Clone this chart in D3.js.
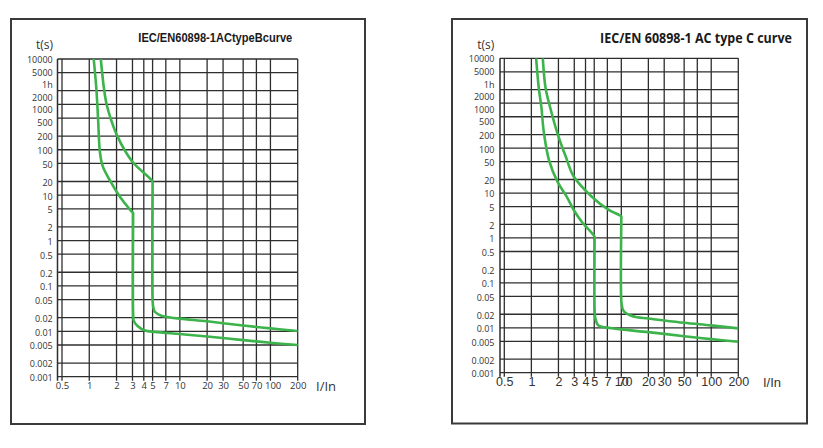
<!DOCTYPE html>
<html>
<head>
<meta charset="utf-8">
<script src="https://cdn.jsdelivr.net/npm/d3@7"></script>
<style>
  body { margin: 0; background: #fff; }
  svg { display: block; }
</style>
</head>
<body>
<svg id="chart" width="823" height="448"></svg>
<script>
// ---------------- data ----------------
const gridCurrent = [0.5, 1, 2, 3, 4, 5, 7, 10, 20, 30, 50, 70, 100, 200];
const gridTime = [10000, 5000, 2000, 1000, 500, 200, 100, 50, 20, 10, 5, 2, 1, 0.5, 0.2, 0.1, 0.05, 0.02, 0.01, 0.005, 0.002, 0.001];

const timeLabelValues = [10000, 5000, 3600, 2000, 1000, 500, 200, 100, 50, 20, 10, 5, 2, 1, 0.5, 0.2, 0.1, 0.05, 0.02, 0.01, 0.005, 0.002, 0.001];
const timeLabelTexts = ["10000", "5000", "1h", "2000", "1000", "500", "200", "100", "50", "20", "10", "5", "2", "1", "0.5", "0.2", "0.1", "0.05", "0.02", "0.01", "0.005", "0.002", "0.001"];

const currentLabelValuesB = [0.5, 1, 2, 3, 4, 5, 7, 10, 20, 30, 50, 70, 100, 200];
const currentLabelTextsB = ["0.5", "1", "2", "3", "4", "5", "7", "10", "20", "30", "50", "70", "100", "200"];

const currentLabelValuesC = [0.5, 1, 2, 3, 4, 5, 7, 10, 11, 20, 30, 50, 100, 200];
const currentLabelTextsC = ["0.5", "1", "2", "3", "4", "5", "7", "10", "70", "20", "30", "50", "100", "200"];

// Type B curve (left chart)
const bLowerI = [1.12, 1.20, 1.25, 1.31, 1.40, 1.72, 2.17, 2.86, 3.05, 3.05, 3.05, 3.10, 3.41, 4.13, 5.29, 10, 20, 50, 100, 200];
const bLowerT = [10000, 2075, 494, 91, 44.7, 19.8, 9.3, 4.6, 4.0, 3.6, 0.025, 0.017, 0.0131, 0.0104, 0.0097, 0.0087, 0.0077, 0.0064, 0.0056, 0.005];
const bUpperI = [1.34, 1.46, 1.56, 1.72, 2.03, 2.49, 3.09, 5.0, 5.0, 5.0, 5.1, 5.29, 6.36, 7, 10, 20, 50, 100, 200];
const bUpperT = [10000, 2075, 970, 494, 205, 94, 50.5, 20, 18, 0.05, 0.033, 0.027, 0.0217, 0.021, 0.019, 0.0166, 0.0134, 0.0116, 0.0102];

// Type C curve (right chart)
const cLowerI = [1.13, 1.21, 1.29, 1.38, 1.57, 1.95, 2.47, 2.96, 3.63, 5.05, 5.05, 5.05, 5.15, 5.5, 6.2, 7, 10, 20, 50, 100, 200];
const cLowerT = [10000, 2147, 836, 214, 54.3, 17.9, 8.3, 4.2, 2.3, 1.06, 0.95, 0.025, 0.016, 0.0115, 0.0104, 0.0101, 0.0092, 0.008, 0.0065, 0.0056, 0.0049];
const cUpperI = [1.34, 1.44, 1.61, 1.95, 2.41, 2.96, 4.7, 7.25, 10, 10, 10, 10.3, 10.8, 12.5, 15, 20, 50, 100, 200];
const cUpperT = [10000, 2147, 836, 214, 65, 23.3, 8.3, 4.2, 3.0, 2.7, 0.04, 0.027, 0.0227, 0.019, 0.0171, 0.0161, 0.0129, 0.0113, 0.0097];

// ---------------- layout ----------------
const yLabelSize = 9;
const yLabelMinGap = 12.6;   // keep stacked time labels from touching

const panels = [
  {
    frame: { x: 11, y: 19, w: 354, h: 405 },
    axisX: 57.5, x0: 62, x1: 297.7, y0: 59, y1: 376.7,
    yPad: 4.8, xPad: 5.2, spreadX: true,
    xLabelFont: "'Open Sans', sans-serif", xLabelSize: 9.5,
    labelValues: currentLabelValuesB, labelTexts: currentLabelTextsB,
    title: "IEC/EN60898-1ACtypeBcurve",
    titleX: 138.3, titleY: 41.5, titleFont: "'Liberation Sans', Arial, sans-serif", titleSize: 12, titleLen: 154,
    tsX: 36, tsY: 49,
    inText: "I/In", inX: 316, inY: 390.5, inFont: "'Open Sans', sans-serif", inSize: 13,
    curves: [[bLowerI, bLowerT], [bUpperI, bUpperT]]
  },
  {
    frame: { x: 452, y: 19, w: 355, h: 404.5 },
    axisX: 500, x0: 504.3, x1: 738.3, y0: 58.3, y1: 372.7,
    yPad: 5.5, xPad: 4.5, spreadX: false,
    xLabelFont: "'Liberation Sans', Arial, sans-serif", xLabelSize: 12.5,
    labelValues: currentLabelValuesC, labelTexts: currentLabelTextsC,
    title: "IEC/EN 60898-1 AC type C curve",
    titleX: 600, titleY: 42.5, titleFont: "'Open Sans', sans-serif", titleSize: 13.5, titleLen: 192,
    tsX: 477.3, tsY: 48.5,
    inText: "I/In", inX: 763, inY: 386.5, inFont: "'Liberation Sans', Arial, sans-serif", inSize: 13,
    curves: [[cLowerI, cLowerT], [cUpperI, cUpperT]]
  }
];

const gridColor = "#2e2e2e";
const textColor = "#333";
const curveColor = "#3cb44b";

const svg = d3.select("#chart");

panels.forEach(p => {
  const g = svg.append("g");

  g.append("rect")
    .attr("x", p.frame.x).attr("y", p.frame.y)
    .attr("width", p.frame.w).attr("height", p.frame.h)
    .attr("fill", "none").attr("stroke", "#3a3a3a").attr("stroke-width", 2);

  const x = d3.scaleLog().domain([0.5, 200]).range([p.x0, p.x1]);
  const y = d3.scaleLog().domain([0.001, 10000]).range([p.y1, p.y0]);

  // horizontal grid
  g.append("g").selectAll("line").data(gridTime).join("line")
    .attr("x1", p.axisX).attr("x2", p.x1)
    .attr("y1", d => y(d)).attr("y2", d => y(d))
    .attr("stroke", gridColor).attr("stroke-width", 1.3);

  // vertical grid
  g.append("g").selectAll("line").data(gridCurrent).join("line")
    .attr("x1", d => x(d)).attr("x2", d => x(d))
    .attr("y1", p.y0).attr("y2", p.y1 + 4)
    .attr("stroke", gridColor).attr("stroke-width", 1.3);

  // left axis line
  g.append("line")
    .attr("x1", p.axisX).attr("x2", p.axisX)
    .attr("y1", p.y0).attr("y2", p.y1 + 4)
    .attr("stroke", gridColor).attr("stroke-width", 1.5);

  // y labels (drawn by the axis, then relaxed so crowded labels don't collide)
  const yAxis = d3.axisLeft(y)
    .tickValues(timeLabelValues)
    .tickFormat(d => timeLabelTexts[timeLabelValues.indexOf(d)])
    .tickSize(0).tickPadding(p.yPad);
  const ya = g.append("g").attr("transform", `translate(${p.axisX},0)`).call(yAxis);
  ya.select(".domain").remove();
  ya.attr("font-family", "'Open Sans', sans-serif").attr("font-size", yLabelSize);
  ya.selectAll("text").attr("fill", textColor);

  const natural = timeLabelValues.map(v => y(v) + 1);
  const pos = natural.slice();
  for (let it = 0; it < 200; it++) {
    for (let i = 1; i < pos.length; i++) {
      const gap = pos[i] - pos[i - 1];
      if (gap < yLabelMinGap) {
        const d = (yLabelMinGap - gap) / 2;
        pos[i - 1] -= d;
        pos[i] += d;
      }
    }
    pos[0] = Math.max(pos[0], p.y0 + 0.7);
  }
  ya.selectAll(".tick text")
    .attr("transform", d => `translate(0,${pos[timeLabelValues.indexOf(d)] - y(d)})`);

  // x labels
  const xAxis = d3.axisBottom(x)
    .tickValues(p.labelValues)
    .tickFormat(d => p.labelTexts[p.labelValues.indexOf(d)])
    .tickSize(0).tickPadding(p.xPad);
  const xa = g.append("g").attr("transform", `translate(0,${p.y1})`).call(xAxis);
  xa.select(".domain").remove();
  xa.attr("font-family", p.xLabelFont).attr("font-size", p.xLabelSize);
  xa.selectAll("text").attr("fill", textColor);

  if (p.spreadX) {
    let prevRight = -Infinity;
    xa.selectAll(".tick text").each(function (d) {
      const w = this.getComputedTextLength();
      const cx = x(d);
      let shift = 0;
      if (cx - w / 2 < prevRight + 2.5) shift = prevRight + 2.5 - (cx - w / 2);
      d3.select(this).attr("dx", shift);
      prevRight = cx + shift + w / 2;
    });
  }

  // curves
  const line = d3.line()
    .x(d => x(d[0]))
    .y(d => y(d[1]))
    .curve(d3.curveCatmullRom.alpha(0.5));
  p.curves.forEach(([I, T]) => {
    g.append("path")
      .datum(d3.zip(I, T))
      .attr("d", line)
      .attr("fill", "none")
      .attr("stroke", curveColor)
      .attr("stroke-width", 2.6)
      .attr("stroke-linejoin", "round");
  });

  // title
  g.append("text")
    .attr("x", p.titleX).attr("y", p.titleY)
    .attr("font-family", p.titleFont).attr("font-size", p.titleSize)
    .attr("font-weight", "bold").attr("fill", "#1a1a1a")
    .attr("textLength", p.titleLen).attr("lengthAdjust", "spacingAndGlyphs")
    .text(p.title);

  // t(s)
  g.append("text")
    .attr("x", p.tsX).attr("y", p.tsY)
    .attr("font-family", "'Open Sans', sans-serif").attr("font-size", 12)
    .attr("fill", textColor)
    .text("t(s)");

  // I/In
  g.append("text")
    .attr("x", p.inX).attr("y", p.inY)
    .attr("font-family", p.inFont).attr("font-size", p.inSize)
    .attr("fill", textColor)
    .text(p.inText);
});
</script>
</body>
</html>
